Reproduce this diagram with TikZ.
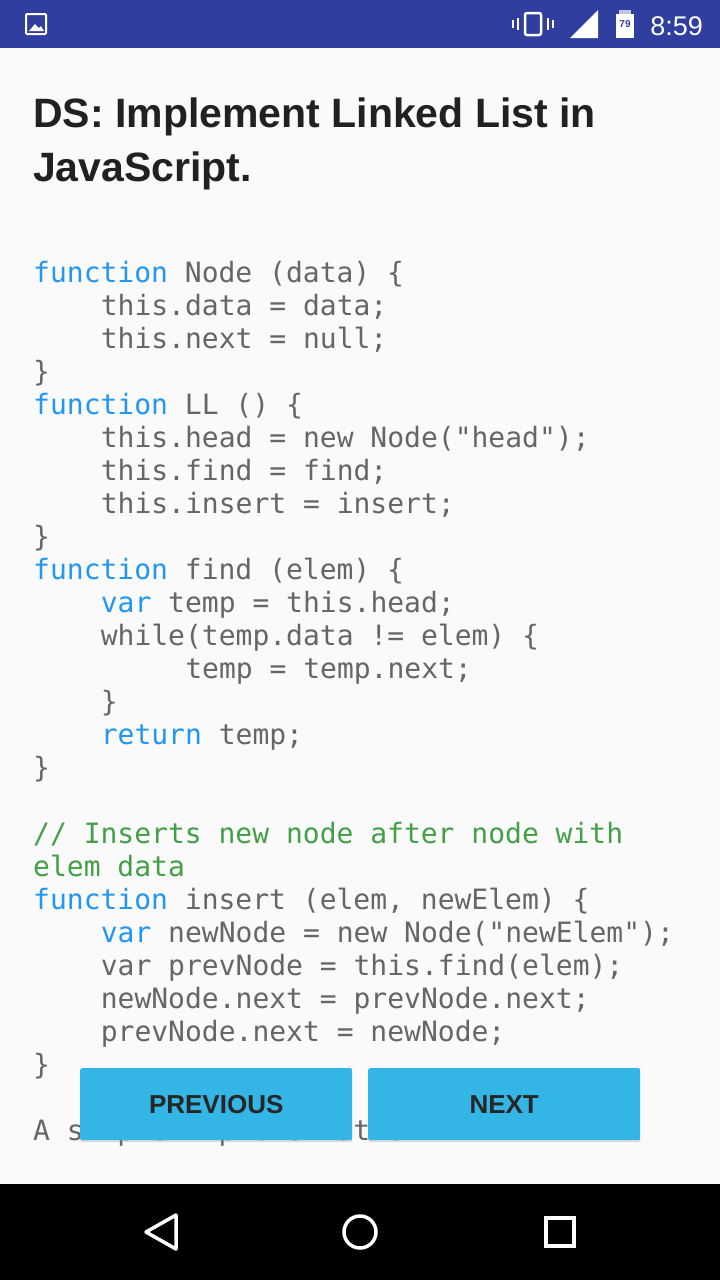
\documentclass[tikz,border=0pt]{standalone}
\usepackage{fontspec}
\setmainfont{Liberation Sans}
\newfontfamily\codefont{DejaVu Sans Mono}
\usetikzlibrary{shadows}
\definecolor{bg}{HTML}{FAFAFA}
\definecolor{bar}{HTML}{303F9F}
\definecolor{kw}{HTML}{2196F3}
\definecolor{cm}{HTML}{43A047}
\definecolor{tx}{HTML}{666666}
\definecolor{btn}{HTML}{33B5E5}
\newcommand{\kwd}[1]{\textcolor{kw}{#1}}
\tikzset{code/.style={anchor=base west,inner sep=0pt,font=\codefont\fontsize{28}{30}\selectfont,text=tx},
 btnbox/.style={fill=btn,rounded corners=2pt,drop shadow={opacity=0.25,shadow xshift=0pt,shadow yshift=-2pt},minimum width=272pt,minimum height=72pt,anchor=north west,font=\bfseries\fontsize{26}{30}\selectfont,text=black!85}}
\begin{document}
\begin{tikzpicture}[x=1pt,y=-1pt]
\fill[bg] (0,0) rectangle (720,1280);
\useasboundingbox (0,0) rectangle (720,1280);
\fill[bar] (0,0) rectangle (720,48);
\fill[black] (0,1184) rectangle (720,1280);
% status bar icons
\draw[white,line width=2pt,rounded corners=1pt] (26,14) rectangle (46,34);
\fill[white] (29,31) -- (35,24) -- (39,28) -- (41,26) -- (44,31) -- cycle;
\draw[white,line width=2.5pt,rounded corners=2pt] (525,13) rectangle (541,35);
\draw[white,line width=2.5pt] (518,18) -- (518,30) (548,18) -- (548,30) (513,20)--(513,28) (553,20)--(553,28);
\fill[white] (570,38) -- (598,10) -- (598,38) -- cycle;
\fill[white!70!bar] (619,10) rectangle (631,14);
\fill[white] (616,14) rectangle (634,38);
\node[inner sep=0pt,font=\bfseries\fontsize{10}{10}\selectfont,text=bar] (bat) at (625,24) {79};
\node[inner sep=0pt,anchor=base east,text=white,font=\fontsize{27}{27}\selectfont] (time) at (703,35) {8:59};
% title
\node[anchor=base west,inner sep=0pt,font=\bfseries\fontsize{41}{42}\selectfont,text=black!87] (t1) at (33,127) {DS: Implement Linked List in};
\node[anchor=base west,inner sep=0pt,font=\bfseries\fontsize{41}{42}\selectfont,text=black!87] (t2) at (33,181) {JavaScript.};
% code
\begin{scope}
\clip (0,230) rectangle (720,1148);
\def\LX#1#2#3{\node[code] at ({33+16.9*#2},{282+33*#1}) {#3};}
\LX{0}{0}{\kwd{function} Node (data) \{}
\LX{1}{4}{this.data = data;}
\LX{2}{4}{this.next = null;}
\LX{3}{0}{\}}
\LX{4}{0}{\kwd{function} LL () \{}
\LX{5}{4}{this.head = new Node("head");}
\LX{6}{4}{this.find = find;}
\LX{7}{4}{this.insert = insert;}
\LX{8}{0}{\}}
\LX{9}{0}{\kwd{function} find (elem) \{}
\LX{10}{4}{\kwd{var} temp = this.head;}
\LX{11}{4}{while(temp.data != elem) \{}
\LX{12}{9}{temp = temp.next;}
\LX{13}{4}{\}}
\LX{14}{4}{\kwd{return} temp;}
\LX{15}{0}{\}}
\LX{17}{0}{\textcolor{cm}{// Inserts new node after node with}}
\LX{18}{0}{\textcolor{cm}{elem data}}
\LX{19}{0}{\kwd{function} insert (elem, newElem) \{}
\LX{20}{4}{\kwd{var} newNode = new Node("newElem");}
\LX{21}{4}{var prevNode = this.find(elem);}
\LX{22}{4}{newNode.next = prevNode.next;}
\LX{23}{4}{prevNode.next = newNode;}
\LX{24}{0}{\}}
\LX{26}{0}{A simple implementation}
\end{scope}
% buttons
\node[btnbox] (prev) at (80,1068) {PREVIOUS};
\node[btnbox] (next) at (368,1068) {NEXT};
% nav bar
\draw[white,line width=3.5pt,line join=round] (176,1215) -- (176,1249) -- (146,1232) -- cycle;
\draw[white,line width=3.5pt] (360,1232) circle (16);
\draw[white,line width=3.5pt] (546,1218) rectangle (574,1246);
\end{tikzpicture}
\end{document}
